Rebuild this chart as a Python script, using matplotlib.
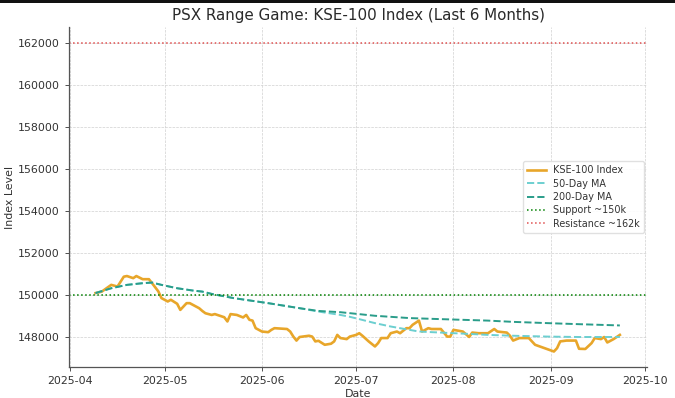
import pandas as pd
import matplotlib
matplotlib.use("Agg")
import matplotlib.pyplot as plt
from matplotlib.patches import Rectangle

# ── Data ──────────────────────────────────────────────────────────────────────

INDEX_DATES = [
    "2025-04-09", "2025-04-11", "2025-04-14", "2025-04-16", "2025-04-18",
    "2025-04-19", "2025-04-21", "2025-04-22", "2025-04-24", "2025-04-26",
    "2025-04-27", "2025-04-29", "2025-04-30", "2025-05-02", "2025-05-03",
    "2025-05-05", "2025-05-06", "2025-05-08", "2025-05-09", "2025-05-12",
    "2025-05-13", "2025-05-14", "2025-05-16", "2025-05-17", "2025-05-20",
    "2025-05-21", "2025-05-22", "2025-05-24", "2025-05-26", "2025-05-27",
    "2025-05-28", "2025-05-29", "2025-05-30", "2025-06-01", "2025-06-03",
    "2025-06-04", "2025-06-05", "2025-06-09", "2025-06-10", "2025-06-11",
    "2025-06-12", "2025-06-13", "2025-06-16", "2025-06-17", "2025-06-18",
    "2025-06-19", "2025-06-21", "2025-06-23", "2025-06-24", "2025-06-25",
    "2025-06-26", "2025-06-28", "2025-06-29", "2025-07-01", "2025-07-02",
    "2025-07-03", "2025-07-05", "2025-07-07", "2025-07-08", "2025-07-09",
    "2025-07-11", "2025-07-12", "2025-07-14", "2025-07-15", "2025-07-17",
    "2025-07-18", "2025-07-19", "2025-07-21", "2025-07-22", "2025-07-24",
    "2025-07-25", "2025-07-28", "2025-07-30", "2025-07-31", "2025-08-01",
    "2025-08-04", "2025-08-06", "2025-08-07", "2025-08-09", "2025-08-12",
    "2025-08-14", "2025-08-15", "2025-08-18", "2025-08-19", "2025-08-20",
    "2025-08-22", "2025-08-25", "2025-08-27", "2025-08-30", "2025-09-02",
    "2025-09-03", "2025-09-04", "2025-09-06", "2025-09-09", "2025-09-10",
    "2025-09-12", "2025-09-14", "2025-09-15", "2025-09-17", "2025-09-18",
    "2025-09-19", "2025-09-21", "2025-09-23",
]
INDEX_VALUES = [
    150080, 150150, 150470, 150390, 150860,
    150890, 150790, 150890, 150740, 150740,
    150550, 150160, 149840, 149680, 149760,
    149570, 149280, 149600, 149600, 149360,
    149230, 149120, 149040, 149080, 148930,
    148730, 149080, 149040, 148920, 149040,
    148810, 148770, 148410, 148250, 148220,
    148330, 148410, 148370, 148250, 148010,
    147820, 147990, 148050, 148010, 147780,
    147810, 147620, 147670, 147780, 148090,
    147940, 147890, 148010, 148090, 148170,
    148050, 147780, 147540, 147700, 147940,
    147940, 148170, 148250, 148170, 148410,
    148410, 148570, 148770, 148250, 148410,
    148370, 148370, 148010, 148010, 148330,
    148250, 147990, 148200, 148170, 148170,
    148370, 148250, 148200, 148050, 147820,
    147940, 147940, 147620, 147460, 147300,
    147460, 147780, 147820, 147820, 147430,
    147420, 147700, 147940, 147890, 147990,
    147730, 147890, 148090,
]

MA200_DATES = [
    "2025-04-09", "2025-04-14", "2025-04-19", "2025-04-24", "2025-04-27",
    "2025-04-30", "2025-05-05", "2025-05-10", "2025-05-13", "2025-05-16",
    "2025-05-23", "2025-06-03", "2025-06-13", "2025-06-19", "2025-06-26",
    "2025-07-07", "2025-07-18", "2025-07-28", "2025-08-12", "2025-08-20",
    "2025-08-31", "2025-09-10", "2025-09-23",
]
MA200_VALUES = [
    150080, 150310, 150470, 150550, 150580,
    150470, 150310, 150200, 150150, 150040,
    149840, 149600, 149360, 149230, 149170,
    149000, 148890, 148840, 148770, 148710,
    148650, 148600, 148540,
]

MA50_DATES = [
    "2025-04-09", "2025-04-14", "2025-04-19", "2025-04-24", "2025-04-27",
    "2025-04-30", "2025-05-05", "2025-05-10", "2025-05-13", "2025-05-16",
    "2025-05-23", "2025-06-03", "2025-06-13", "2025-06-19", "2025-06-26",
    "2025-06-29", "2025-07-02", "2025-07-07", "2025-07-12", "2025-07-18",
    "2025-07-21", "2025-07-28", "2025-08-07", "2025-08-12", "2025-08-20",
    "2025-08-31", "2025-09-10", "2025-09-23",
]
MA50_VALUES = [
    150080, 150310, 150470, 150550, 150580,
    150470, 150310, 150200, 150150, 150040,
    149840, 149600, 149360, 149200, 149040,
    148950, 148840, 148650, 148490, 148330,
    148250, 148200, 148130, 148090, 148050,
    148010, 147990, 147990,
]

SUPPORT = 150000
RESISTANCE = 162000


def main():
    idx_dates = pd.to_datetime(INDEX_DATES)
    ma50_dates = pd.to_datetime(MA50_DATES)
    ma200_dates = pd.to_datetime(MA200_DATES)

    fig = plt.figure(figsize=(6.75, 3.98), dpi=100)
    ax = fig.add_axes([0.102, 0.078, 0.857, 0.854])

    ax.plot(idx_dates, INDEX_VALUES, color="#E8A62A", lw=1.9, label="KSE-100 Index")
    ax.plot(ma50_dates, MA50_VALUES, color="#6CCFD0", lw=1.4, ls="--", label="50-Day MA")
    ax.plot(ma200_dates, MA200_VALUES, color="#2A9D8A", lw=1.4, ls="--", label="200-Day MA")
    ax.axhline(SUPPORT, color="green", lw=1.1, ls=":", label="Support ~150k")
    ax.axhline(RESISTANCE, color="#E05050", lw=1.1, ls=":", label="Resistance ~162k")

    ax.set_xlim(pd.Timestamp("2025-03-31 12:00"), pd.Timestamp("2025-10-01 18:00"))

    ax.set_title("PSX Range Game: KSE-100 Index (Last 6 Months)", fontsize=10.9,
                 color="#2a2a2a", pad=5)
    ax.set_xlabel("Date", fontsize=7.9, color="#333333", labelpad=2)
    ax.set_ylabel("Index Level", fontsize=7.9, color="#333333", labelpad=2)
    ax.tick_params(labelsize=7.9, colors="#333333", length=3, width=0.6)

    ax.grid(True, ls="--", lw=0.5, color="#d0d0d0")
    for s in ["top", "right"]:
        ax.spines[s].set_visible(False)
    for s in ["left", "bottom"]:
        ax.spines[s].set_color("#555555")
        ax.spines[s].set_linewidth(0.9)

    leg = ax.legend(loc="center right", fontsize=6.9, borderaxespad=0.35,
                    handlelength=2.0, labelspacing=0.35, framealpha=0.9)
    leg.get_frame().set_edgecolor("#dddddd")
    for t in leg.get_texts():
        t.set_color("#333333")

    # dark strip along the top edge of the screenshot
    fig.add_artist(Rectangle((0, 0.992), 1, 0.008, transform=fig.transFigure,
                             color="#111111", lw=0))

    fig.savefig("out.png", dpi=100)


if __name__ == "__main__":
    main()
